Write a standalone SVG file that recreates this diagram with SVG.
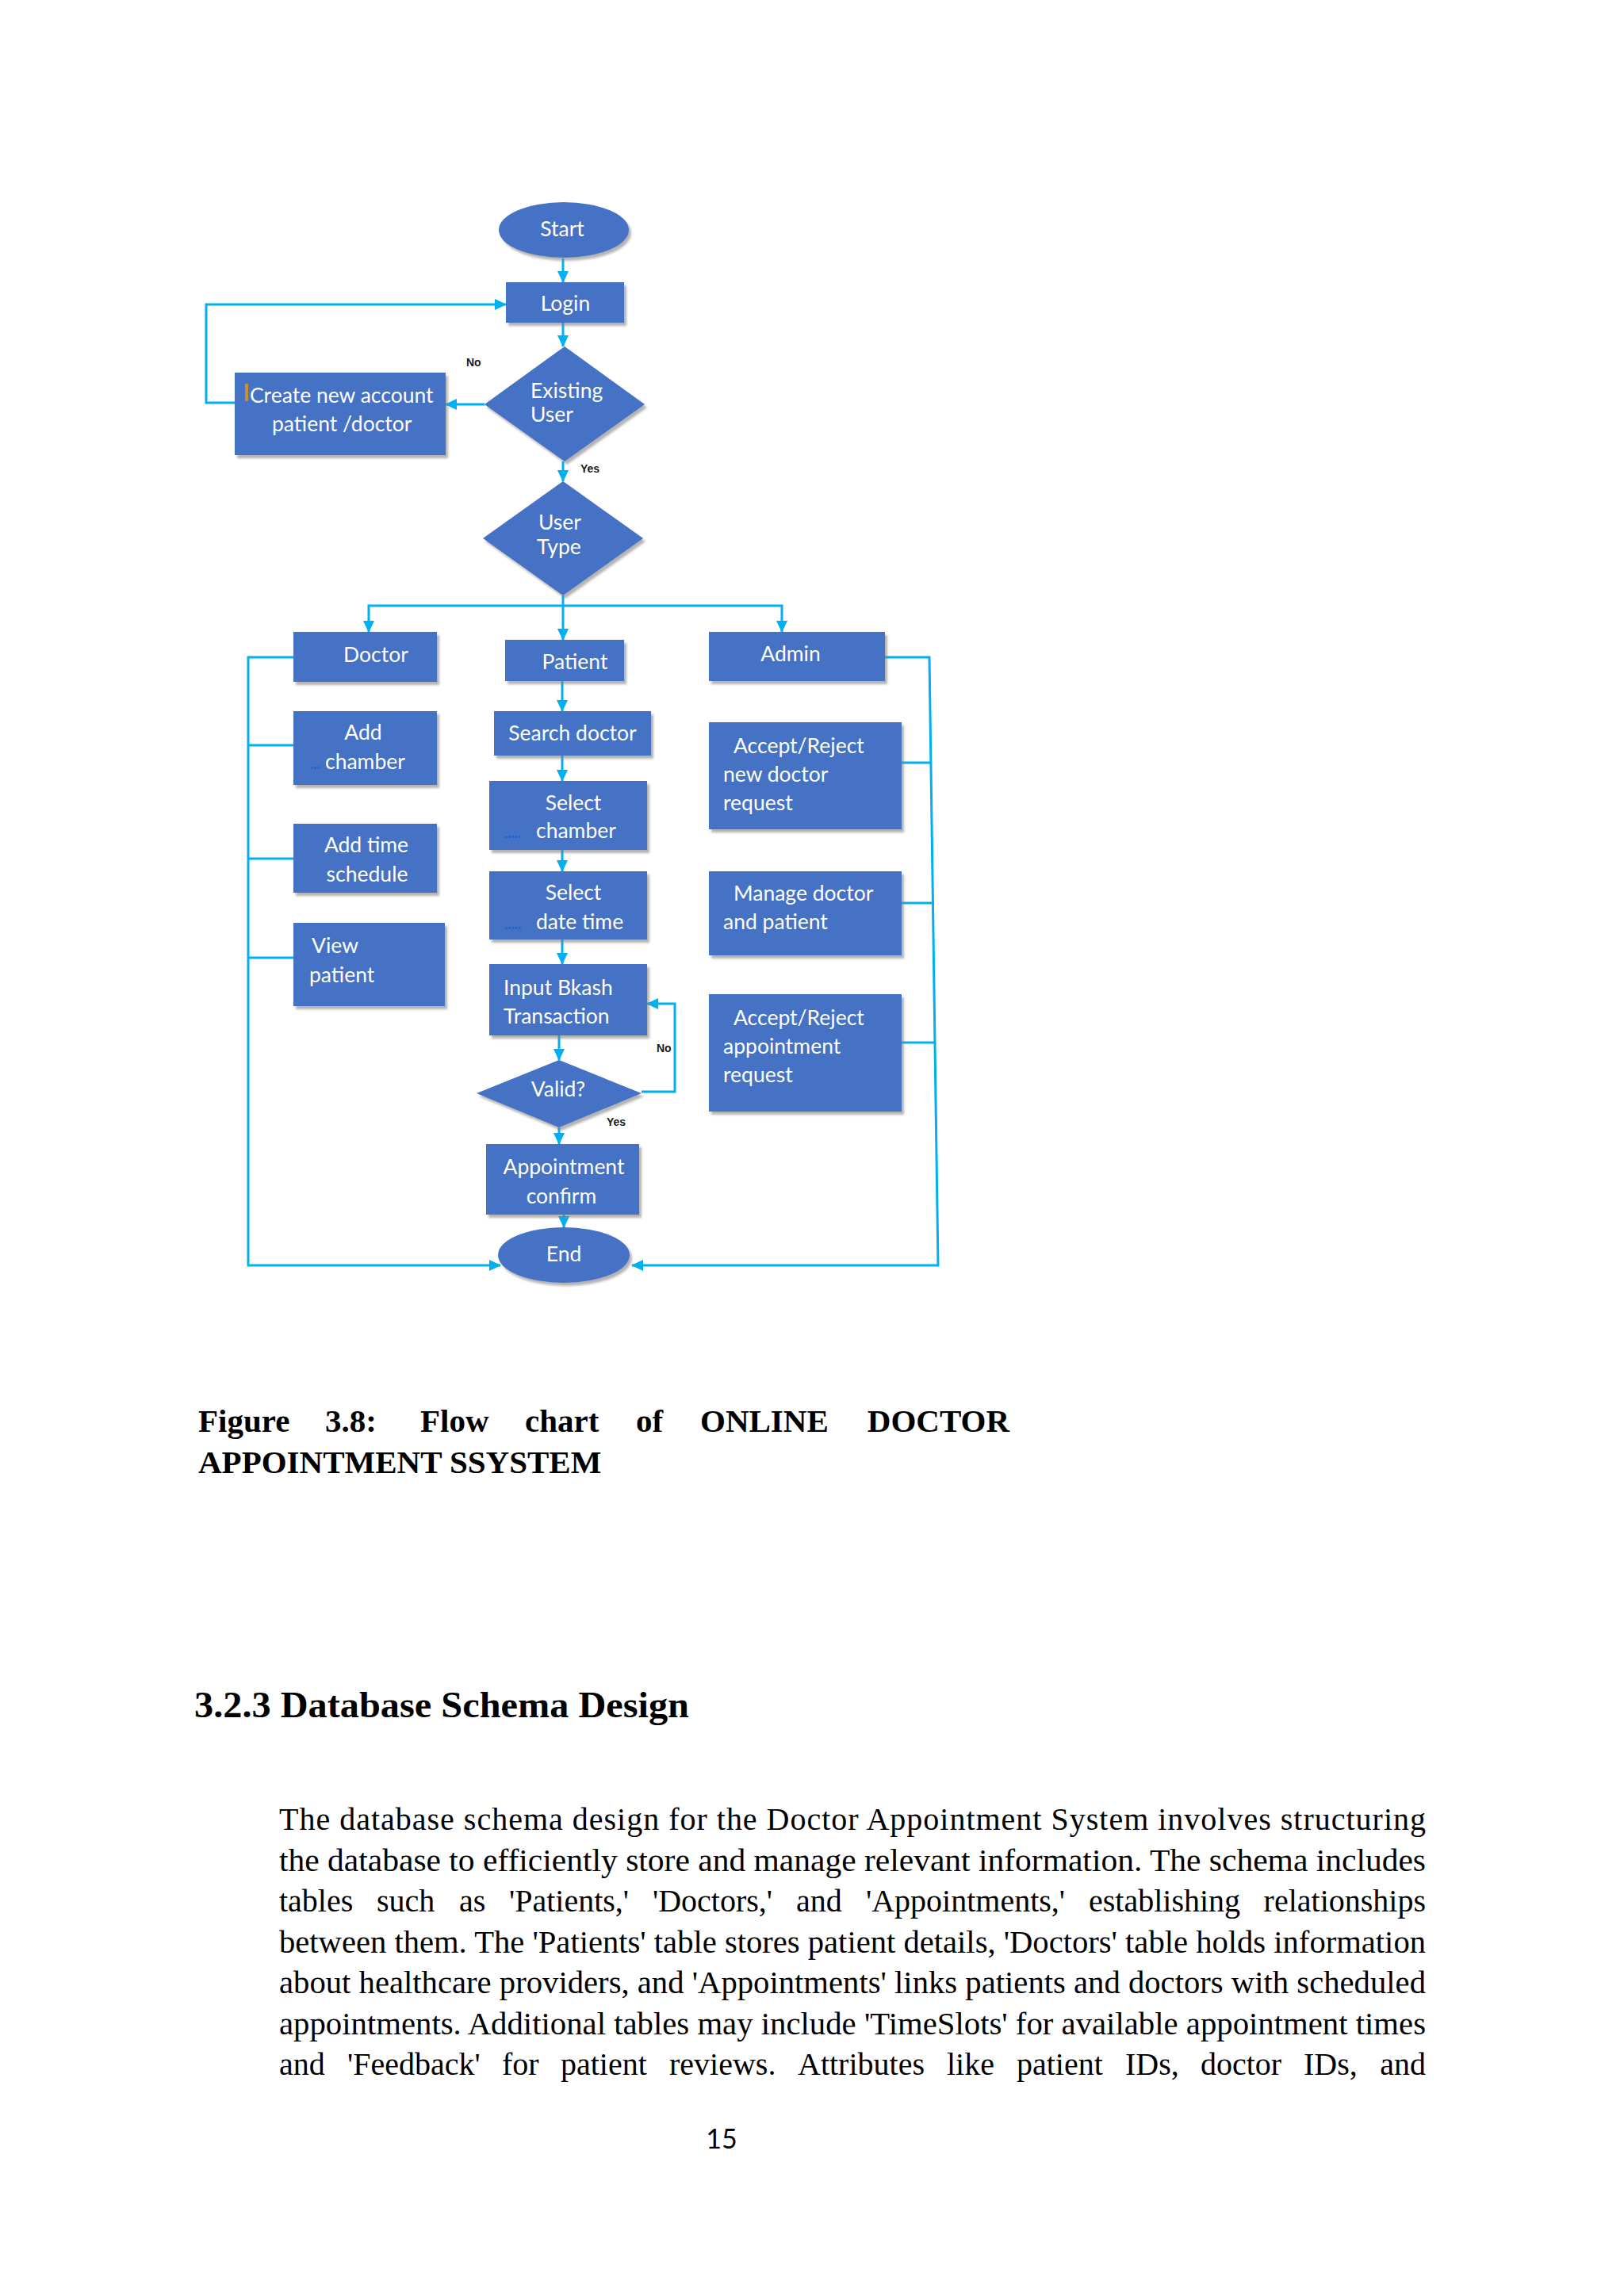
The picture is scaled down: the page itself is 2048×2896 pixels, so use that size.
<svg xmlns="http://www.w3.org/2000/svg" width="2048" height="2896" viewBox="0 0 2048 2896">
<defs>
<filter id="sh" x="-10%" y="-10%" width="125%" height="130%">
<feDropShadow dx="3" dy="4" stdDeviation="1.5" flood-color="#808080" flood-opacity="0.6"/>
</filter>
<marker id="ah" markerUnits="userSpaceOnUse" markerWidth="16" markerHeight="16" viewBox="0 0 16 16" refX="14" refY="8" orient="auto">
<path d="M0,1 L15,8 L0,15 Z" fill="#00B0F0"/>
</marker>
<style>
.n{fill:#4472C4;filter:url(#sh)}
.t{font-family:Lato,"Noto Sans",sans-serif;font-size:26.5px;fill:#ffffff}
.c{text-anchor:middle}
.lb{font-family:"Liberation Sans",Arial,sans-serif;font-size:14px;font-weight:bold;fill:#1a1a1a}
.dots{font-family:Lato,sans-serif;font-size:18px;font-weight:bold;fill:#1a62d6}
.ln{fill:none;stroke:#00B0F0;stroke-width:3}
.ar{marker-end:url(#ah)}
.cap{font-family:"Liberation Serif","Times New Roman",serif;font-size:41px;font-weight:bold;fill:#000}
.bd{font-family:"Liberation Serif","Times New Roman",serif;font-size:40px;fill:#000}
</style>
</defs>
<rect width="2048" height="2896" fill="#ffffff"/>

<g id="connectors">
<path class="ln ar" d="M710,326 V356"/>
<path class="ln ar" d="M710,407 V437"/>
<path class="ln ar" d="M611,510 H562"/>
<path class="ln ar" d="M296,508 H260 V384 H638"/>
<path class="ln ar" d="M710,582 V607"/>
<path class="ln ar" d="M710,751 V807"/>
<path class="ln ar" d="M710,764 H465 V797"/>
<path class="ln ar" d="M710,764 H986 V797"/>
<path class="ln ar" d="M709,859 V897"/>
<path class="ln ar" d="M709,953 V985"/>
<path class="ln ar" d="M709,1072 V1099"/>
<path class="ln ar" d="M709,1185 V1216"/>
<path class="ln ar" d="M705,1306 V1337"/>
<path class="ln ar" d="M809,1377 H851 V1266 H816"/>
<path class="ln ar" d="M705,1422 V1443"/>
<path class="ln ar" d="M711,1532 V1548"/>
<path class="ln ar" d="M370,829 H313 V1596 H631"/>
<path class="ln" d="M370,940 H313"/>
<path class="ln" d="M370,1083 H313"/>
<path class="ln" d="M370,1208 H313"/>
<path class="ln ar" d="M1116,829 H1172 L1183,1596 H797"/>
<path class="ln" d="M1137,962 H1174"/>
<path class="ln" d="M1137,1139 H1177"/>
<path class="ln" d="M1137,1315 H1180"/>
</g>

<g id="start"><ellipse class="n" cx="711" cy="290" rx="82" ry="35"/><text class="t c" x="709" y="298">Start</text></g>
<g id="login"><rect class="n" x="638" y="356" width="149" height="51"/><text class="t c" x="713" y="392">Login</text></g>
<g id="existing-user"><polygon class="n" points="712,437 813,510 712,582 611,510"/><text class="t" x="669" y="502">Existing</text><text class="t" x="669" y="532">User</text></g>
<g id="create-account"><rect class="n" x="296" y="470" width="266" height="104"/><rect x="309" y="484" width="4" height="22" fill="#c8922a"/><text class="t" x="315" y="508">Create new account</text><text class="t" x="343" y="544">patient /doctor</text></g>
<g id="label-no-1"><text class="lb" x="588" y="462">No</text></g>
<g id="label-yes-1"><text class="lb" x="732" y="596">Yes</text></g>
<g id="user-type"><polygon class="n" points="710,607 811,679 710,751 609,679"/><text class="t" x="679" y="668">User</text><text class="t" x="677" y="699">Type</text></g>

<g id="doctor"><rect class="n" x="370" y="797" width="181" height="63"/><text class="t c" x="474" y="835">Doctor</text></g>
<g id="patient"><rect class="n" x="637" y="807" width="150" height="52"/><text class="t c" x="725" y="844">Patient</text></g>
<g id="admin"><rect class="n" x="894" y="797" width="222" height="62"/><text class="t c" x="997" y="834">Admin</text></g>

<g id="add-chamber"><rect class="n" x="370" y="897" width="181" height="93"/><text class="t c" x="458" y="933">Add</text><text class="dots" x="391" y="970">...</text><text class="t" x="410" y="970">chamber</text></g>
<g id="add-time"><rect class="n" x="370" y="1039" width="181" height="87"/><text class="t c" x="462" y="1075">Add time</text><text class="t c" x="463" y="1112">schedule</text></g>
<g id="view-patient"><rect class="n" x="370" y="1164" width="191" height="105"/><text class="t" x="393" y="1202">View</text><text class="t" x="390" y="1239">patient</text></g>

<g id="search-doctor"><rect class="n" x="623" y="897" width="198" height="56"/><text class="t c" x="722" y="934">Search doctor</text></g>
<g id="select-chamber"><rect class="n" x="617" y="985" width="199" height="87"/><text class="t c" x="723" y="1022">Select</text><text class="dots" x="636" y="1057">.....</text><text class="t" x="676" y="1057">chamber</text></g>
<g id="select-date"><rect class="n" x="617" y="1099" width="199" height="86"/><text class="t c" x="723" y="1135">Select</text><text class="dots" x="636" y="1172">.....</text><text class="t" x="676" y="1172">date time</text></g>
<g id="input-bkash"><rect class="n" x="617" y="1216" width="199" height="90"/><text class="t" x="635" y="1255">Input Bkash</text><text class="t" x="635" y="1291">Transaction</text></g>
<g id="valid"><polygon class="n" points="705,1337 809,1379 705,1422 601,1379"/><text class="t c" x="704" y="1383">Valid?</text></g>
<g id="label-no-2"><text class="lb" x="828" y="1327">No</text></g>
<g id="label-yes-2"><text class="lb" x="765" y="1420">Yes</text></g>
<g id="appointment-confirm"><rect class="n" x="613" y="1443" width="193" height="89"/><text class="t c" x="711" y="1481">Appointment</text><text class="t c" x="708" y="1518">confirm</text></g>
<g id="end"><ellipse class="n" cx="711" cy="1583" rx="83" ry="35"/><text class="t c" x="711" y="1591">End</text></g>

<g id="accept-doctor"><rect class="n" x="894" y="911" width="243" height="135"/><text class="t" x="925" y="950">Accept/Reject</text><text class="t" x="912" y="986">new doctor</text><text class="t" x="912" y="1022">request</text></g>
<g id="manage"><rect class="n" x="894" y="1099" width="243" height="106"/><text class="t" x="925" y="1136">Manage doctor</text><text class="t" x="912" y="1172">and patient</text></g>
<g id="accept-appointment"><rect class="n" x="894" y="1254" width="243" height="148"/><text class="t" x="925" y="1293">Accept/Reject</text><text class="t" x="912" y="1329">appointment</text><text class="t" x="912" y="1365">request</text></g>

<g id="caption">
<text class="cap" y="1806"><tspan x="250">Figure</tspan><tspan x="410">3.8:</tspan><tspan x="530">Flow</tspan><tspan x="662">chart</tspan><tspan x="802">of</tspan><tspan x="883">ONLINE</tspan></text>
<text class="cap" x="1273" y="1806" text-anchor="end">DOCTOR</text>
<text class="cap" x="250" y="1858">APPOINTMENT SSYSTEM</text>
</g>

<g id="heading"><text x="245" y="2166" font-family="Liberation Serif,Times New Roman,serif" font-size="46" font-weight="bold" textLength="624" lengthAdjust="spacingAndGlyphs">3.2.3 Database Schema Design</text></g>

<g id="body">
<text class="bd" x="352" y="2308" textLength="1446" lengthAdjust="spacing">The database schema design for the Doctor Appointment System involves structuring</text>
<text class="bd" x="352" y="2360" textLength="1446" lengthAdjust="spacingAndGlyphs">the database to efficiently store and manage relevant information. The schema includes</text>
<text class="bd" y="2411"><tspan x="352">tables</tspan><tspan x="475">such</tspan><tspan x="579">as</tspan><tspan x="642">'Patients,'</tspan><tspan x="823">'Doctors,'</tspan><tspan x="1004">and</tspan><tspan x="1092">'Appointments,'</tspan><tspan x="1373">establishing</tspan></text>
<text class="bd" x="1798" y="2411" text-anchor="end">relationships</text>
<text class="bd" x="352" y="2463" textLength="1446" lengthAdjust="spacingAndGlyphs">between them. The 'Patients' table stores patient details, 'Doctors' table holds information</text>
<text class="bd" x="352" y="2514" textLength="1446" lengthAdjust="spacingAndGlyphs">about healthcare providers, and 'Appointments' links patients and doctors with scheduled</text>
<text class="bd" x="352" y="2566" textLength="1446" lengthAdjust="spacingAndGlyphs">appointments. Additional tables may include 'TimeSlots' for available appointment times</text>
<text class="bd" y="2617"><tspan x="352">and</tspan><tspan x="438">'Feedback'</tspan><tspan x="633">for</tspan><tspan x="707">patient</tspan><tspan x="844">reviews.</tspan><tspan x="1006">Attributes</tspan><tspan x="1194">like</tspan><tspan x="1282">patient</tspan><tspan x="1419">IDs,</tspan><tspan x="1514">doctor</tspan><tspan x="1644">IDs,</tspan></text>
<text class="bd" x="1798" y="2617" text-anchor="end">and</text>
</g>

<g id="page-number"><text x="910" y="2710" text-anchor="middle" font-family="Lato,Carlito,sans-serif" font-size="34" fill="#000">15</text></g>
</svg>
